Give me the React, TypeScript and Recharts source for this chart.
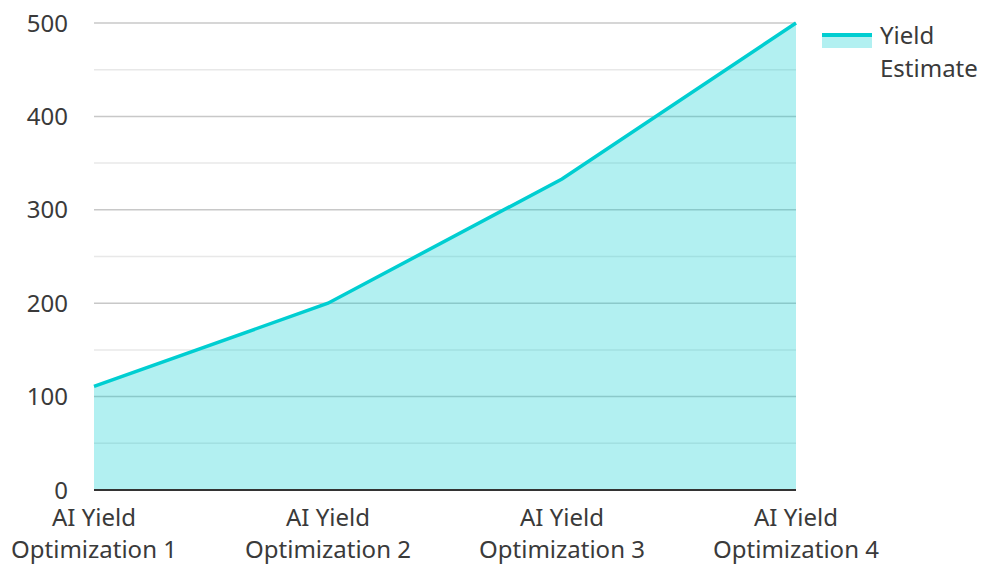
import React from 'react';
import { AreaChart, Area, XAxis, YAxis, CartesianGrid } from 'recharts';

const categories = ['AI Yield Optimization 1', 'AI Yield Optimization 2', 'AI Yield Optimization 3', 'AI Yield Optimization 4'];
const yieldEstimate = [111, 200, 333, 500];
const yTicks = [0, 100, 200, 300, 400, 500];
const majorGrid = [100, 200, 300, 400, 500];
const minorGrid = [50, 150, 250, 350, 450];
const seriesName = 'Yield Estimate';

const data = categories.map((c, i) => ({ name: c, value: yieldEstimate[i] }));

const FONT = '"Noto Sans", sans-serif';
const TEXT = '#3a3a3a';
const FS = 24;

const XTick = (props: any) => {
  const { x, y, payload } = props;
  const words = String(payload.value).split(' ');
  const l1 = words.slice(0, 2).join(' ');
  const l2 = words.slice(2).join(' ');
  return (
    <text x={x} y={y} textAnchor="middle" fill={TEXT} fontFamily={FONT} fontSize={FS}>
      <tspan x={x} y={y + 28}>{l1}</tspan>
      <tspan x={x} y={y + 60}>{l2}</tspan>
    </text>
  );
};

const YTick = (props: any) => {
  const { y, payload } = props;
  return (
    <text x={68} y={y} dy={8.5} textAnchor="end" fill={TEXT} fontFamily={FONT} fontSize={FS}>
      {payload.value}
    </text>
  );
};

export default function App() {
  return (
    <div style={{ position: 'absolute', left: 0, top: 0, width: 983, height: 564 }}>
      <AreaChart width={983} height={564} data={data} margin={{ top: 23, right: 187, bottom: 0, left: 0 }}>
        <CartesianGrid vertical={false} horizontalValues={minorGrid} stroke="#e8e8e8" strokeWidth={1.5} />
        <CartesianGrid vertical={false} horizontalValues={majorGrid} stroke="#c8c8c8" strokeWidth={1.5} />
        <XAxis dataKey="name" height={74} tickLine={false} axisLine={{ stroke: '#333', strokeWidth: 2 }} tick={<XTick />} interval={0} />
        <YAxis width={94} domain={[0, 500]} ticks={yTicks} axisLine={false} tickLine={false} tick={<YTick />} />
        <Area type="linear" dataKey="value" name={seriesName} stroke="#00CED1" strokeWidth={3.5} fill="#00CED1" fillOpacity={0.3} isAnimationActive={false} dot={false} activeDot={false} />
      </AreaChart>
      <div style={{ position: 'absolute', left: 822, top: 18, display: 'flex', fontFamily: FONT, fontSize: FS, color: TEXT }}>
        <svg width={50} height={30} style={{ marginTop: 13 }}>
          <rect x={0} y={2} width={50} height={15} fill="#00CED1" fillOpacity={0.3} />
          <line x1={0} y1={4} x2={50} y2={4} stroke="#00CED1" strokeWidth={4} />
        </svg>
        <div style={{ marginLeft: 8, lineHeight: '33px' }}>
          Yield<br />{seriesName.split(' ')[1]}
        </div>
      </div>
    </div>
  );
}
